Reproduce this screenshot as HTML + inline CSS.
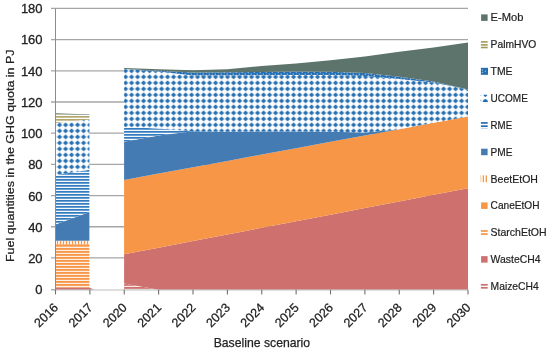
<!DOCTYPE html>
<html><head><meta charset="utf-8"><title>Fuel quantities chart</title>
<style>html,body{margin:0;padding:0;background:#fff;width:550px;height:352px;overflow:hidden}svg{display:block}</style>
</head><body>
<svg width="550" height="352" viewBox="0 0 550 352">
<defs>
<pattern id="p_diamond" patternUnits="userSpaceOnUse" x="2.6" y="1.9" width="6" height="6">
  <rect width="6" height="6" fill="#fff"/>
  <polygon points="3,0.45 5.55,3 3,5.55 0.45,3" fill="#246DB0"/>
</pattern>
<pattern id="p_tme" patternUnits="userSpaceOnUse" x="0" y="0" width="6" height="3.5">
  <rect width="6" height="3.5" fill="#246DB0"/>
  <circle cx="2.3" cy="2.1" r="0.75" fill="#A8C8EA"/>
  <circle cx="5.3" cy="0.85" r="0.75" fill="#A8C8EA"/>
</pattern>
<pattern id="p_bluelines" patternUnits="userSpaceOnUse" x="0" y="0" width="6" height="3"><rect width="6" height="3" fill="#fff"/><rect y="1.95" width="6" height="1.8" fill="#347CC0"/><rect y="-1.05" width="6" height="1.8" fill="#347CC0"/></pattern>
<pattern id="p_orglines" patternUnits="userSpaceOnUse" x="0" y="0" width="6" height="3"><rect width="6" height="3" fill="#fff"/><rect y="1.85" width="6" height="2.0" fill="#F79646"/><rect y="-1.15" width="6" height="2.0" fill="#F79646"/></pattern>
<pattern id="p_redlines" patternUnits="userSpaceOnUse" x="0" y="0" width="6" height="3"><rect width="6" height="3" fill="#fff"/><rect y="1.85" width="6" height="2.0" fill="#CD706E"/><rect y="-1.15" width="6" height="2.0" fill="#CD706E"/></pattern>
<pattern id="p_olive" patternUnits="userSpaceOnUse" x="0" y="0" width="6" height="3"><rect width="6" height="3" fill="#fff"/><rect y="2.10" width="6" height="1.5" fill="#AA9C5C"/><rect y="-0.90" width="6" height="1.5" fill="#AA9C5C"/></pattern>
<pattern id="p_orgvlines" patternUnits="userSpaceOnUse" x="0" y="0" width="3" height="6">
  <rect width="3" height="6" fill="#fff"/>
  <rect x="-0.15" width="1.3" height="6" fill="#F79646"/>
  <rect x="2.85" width="1.3" height="6" fill="#F79646"/>
</pattern>
</defs>
<rect width="550" height="352" fill="#fff"/>
<g><line x1="51" y1="257.91" x2="468.00" y2="257.91" stroke="#A6A6A6" stroke-width="1.3"/><line x1="51" y1="226.73" x2="468.00" y2="226.73" stroke="#A6A6A6" stroke-width="1.3"/><line x1="51" y1="195.54" x2="468.00" y2="195.54" stroke="#A6A6A6" stroke-width="1.3"/><line x1="51" y1="164.36" x2="468.00" y2="164.36" stroke="#A6A6A6" stroke-width="1.3"/><line x1="51" y1="133.17" x2="468.00" y2="133.17" stroke="#A6A6A6" stroke-width="1.3"/><line x1="51" y1="101.98" x2="468.00" y2="101.98" stroke="#A6A6A6" stroke-width="1.3"/><line x1="51" y1="70.80" x2="468.00" y2="70.80" stroke="#A6A6A6" stroke-width="1.3"/><line x1="51" y1="39.61" x2="468.00" y2="39.61" stroke="#A6A6A6" stroke-width="1.3"/><line x1="51" y1="8.43" x2="468.00" y2="8.43" stroke="#A6A6A6" stroke-width="1.3"/></g>
<g><polygon points="55.50,287.50 89.38,287.50 89.38,289.80 55.50,289.80" fill="#CD706E"/>
<polygon points="55.50,246.20 89.38,246.20 89.38,287.50 55.50,287.50" fill="url(#p_orglines)"/>
<polygon points="55.50,244.20 89.38,244.20 89.38,246.20 55.50,246.20" fill="#F79646"/>
<polygon points="55.50,240.70 89.38,240.70 89.38,244.20 55.50,244.20" fill="url(#p_orgvlines)"/>
<polygon points="55.50,224.40 89.38,211.90 89.38,240.70 55.50,240.70" fill="#457BB3"/>
<polygon points="55.50,174.90 89.38,169.80 89.38,211.90 55.50,224.40" fill="url(#p_bluelines)"/>
<polygon points="55.50,123.00 89.38,119.50 89.38,169.80 55.50,174.90" fill="url(#p_diamond)"/>
<polygon points="55.50,113.90 89.38,115.00 89.38,119.50 55.50,123.00" fill="url(#p_olive)"/>
<polygon points="55.50,113.30 89.38,114.40 89.38,115.00 55.50,113.90" fill="#5C746C"/></g>
<g><polygon points="124.10,283.50 158.62,289.80 193.00,289.80 227.38,289.80 261.75,289.80 296.12,289.80 330.50,289.80 364.88,289.80 399.25,289.80 433.62,289.80 468.00,289.80 468.00,289.80 433.62,289.80 399.25,289.80 364.88,289.80 330.50,289.80 296.12,289.80 261.75,289.80 227.38,289.80 193.00,289.80 158.62,289.80 124.10,289.80" fill="url(#p_redlines)"/>
<polygon points="124.10,254.30 158.62,247.69 193.00,241.08 227.38,234.47 261.75,227.86 296.12,221.25 330.50,214.64 364.88,208.03 399.25,201.42 433.62,194.81 468.00,188.20 468.00,289.80 433.62,289.80 399.25,289.80 364.88,289.80 330.50,289.80 296.12,289.80 261.75,289.80 227.38,289.80 193.00,289.80 158.62,289.80 124.10,283.50" fill="#CD706E"/>
<polygon points="124.10,179.90 158.62,173.56 193.00,167.22 227.38,160.88 261.75,154.54 296.12,148.20 330.50,141.86 364.88,135.52 399.25,129.18 433.62,122.84 468.00,116.50 468.00,188.20 433.62,194.81 399.25,201.42 364.88,208.03 330.50,214.64 296.12,221.25 261.75,227.86 227.38,234.47 193.00,241.08 158.62,247.69 124.10,254.30" fill="#F79646"/>
<polygon points="124.10,141.80 158.62,135.40 193.00,131.30 227.38,131.70 261.75,131.50 296.12,131.40 330.50,131.80 364.88,132.60 399.25,129.18 433.62,122.84 468.00,116.50 468.00,116.50 433.62,122.84 399.25,129.18 364.88,135.52 330.50,141.86 296.12,148.20 261.75,154.54 227.38,160.88 193.00,167.22 158.62,173.56 124.10,179.90" fill="#457BB3"/>
<polygon points="124.10,127.00 158.62,128.50 193.00,131.30 227.38,131.70 261.75,131.50 296.12,131.40 330.50,131.80 364.88,132.60 399.25,129.18 433.62,122.84 468.00,116.50 468.00,116.50 433.62,122.84 399.25,129.18 364.88,132.60 330.50,131.80 296.12,131.40 261.75,131.50 227.38,131.70 193.00,131.30 158.62,135.40 124.10,141.80" fill="url(#p_bluelines)"/>
<polygon points="124.10,69.00 158.62,71.40 193.00,75.40 227.38,75.40 261.75,75.30 296.12,74.90 330.50,75.10 364.88,76.00 399.25,79.00 433.62,82.40 468.00,89.40 468.00,116.50 433.62,122.84 399.25,129.18 364.88,132.60 330.50,131.80 296.12,131.40 261.75,131.50 227.38,131.70 193.00,131.30 158.62,128.50 124.10,127.00" fill="url(#p_diamond)"/>
<polygon points="124.10,69.00 158.62,70.80 193.00,72.60 227.38,72.20 261.75,72.00 296.12,71.60 330.50,71.80 364.88,73.00 399.25,76.80 433.62,81.60 468.00,89.40 468.00,89.40 433.62,82.40 399.25,79.00 364.88,76.00 330.50,75.10 296.12,74.90 261.75,75.30 227.38,75.40 193.00,75.40 158.62,71.40 124.10,69.00" fill="url(#p_tme)"/>
<polygon points="124.10,67.90 158.62,69.30 193.00,70.30 227.38,69.20 261.75,65.90 296.12,63.40 330.50,60.30 364.88,56.40 399.25,51.80 433.62,47.50 468.00,42.60 468.00,89.40 433.62,81.60 399.25,76.80 364.88,73.00 330.50,71.80 296.12,71.60 261.75,72.00 227.38,72.20 193.00,72.60 158.62,70.80 124.10,69.00" fill="#5C746C"/></g>
<polygon points="89.0,287.6 94.0,289.6 89.0,289.8" fill="#CD706E"/>
<line x1="55.50" y1="290.00" x2="468.00" y2="290.00" stroke="#BDBDBD" stroke-width="1.2"/>
<line x1="55.50" y1="8.50" x2="55.50" y2="294.2" stroke="#8C8C8C" stroke-width="1"/>
<line x1="51" y1="289.80" x2="55.50" y2="289.80" stroke="#8C8C8C" stroke-width="1"/>
<g><line x1="55.50" y1="289.80" x2="55.50" y2="294.4" stroke="#707070" stroke-width="1.1"/><line x1="89.88" y1="289.80" x2="89.88" y2="294.4" stroke="#707070" stroke-width="1.1"/><line x1="124.25" y1="289.80" x2="124.25" y2="294.4" stroke="#707070" stroke-width="1.1"/><line x1="158.62" y1="289.80" x2="158.62" y2="294.4" stroke="#707070" stroke-width="1.1"/><line x1="193.00" y1="289.80" x2="193.00" y2="294.4" stroke="#707070" stroke-width="1.1"/><line x1="227.38" y1="289.80" x2="227.38" y2="294.4" stroke="#707070" stroke-width="1.1"/><line x1="261.75" y1="289.80" x2="261.75" y2="294.4" stroke="#707070" stroke-width="1.1"/><line x1="296.12" y1="289.80" x2="296.12" y2="294.4" stroke="#707070" stroke-width="1.1"/><line x1="330.50" y1="289.80" x2="330.50" y2="294.4" stroke="#707070" stroke-width="1.1"/><line x1="364.88" y1="289.80" x2="364.88" y2="294.4" stroke="#707070" stroke-width="1.1"/><line x1="399.25" y1="289.80" x2="399.25" y2="294.4" stroke="#707070" stroke-width="1.1"/><line x1="433.62" y1="289.80" x2="433.62" y2="294.4" stroke="#707070" stroke-width="1.1"/><line x1="468.00" y1="289.80" x2="468.00" y2="294.4" stroke="#707070" stroke-width="1.1"/></g>
<g font-family="Liberation Sans, Arial, sans-serif" font-size="13" fill="#222222" stroke="#222222" stroke-width="0.3"><text x="42.6" y="294.20" text-anchor="end">0</text><text x="42.6" y="262.98" text-anchor="end">20</text><text x="42.6" y="231.76" text-anchor="end">40</text><text x="42.6" y="200.53" text-anchor="end">60</text><text x="42.6" y="169.31" text-anchor="end">80</text><text x="42.6" y="138.09" text-anchor="end">100</text><text x="42.6" y="106.87" text-anchor="end">120</text><text x="42.6" y="75.64" text-anchor="end">140</text><text x="42.6" y="44.42" text-anchor="end">160</text><text x="42.6" y="13.20" text-anchor="end">180</text></g>
<g font-family="Liberation Sans, Arial, sans-serif" font-size="12.5" fill="#222222" stroke="#222222" stroke-width="0.25"><text x="59.00" y="308.30" text-anchor="end" transform="rotate(-45 59.00 308.30)">2016</text><text x="93.38" y="308.30" text-anchor="end" transform="rotate(-45 93.38 308.30)">2017</text><text x="127.75" y="308.30" text-anchor="end" transform="rotate(-45 127.75 308.30)">2020</text><text x="162.12" y="308.30" text-anchor="end" transform="rotate(-45 162.12 308.30)">2021</text><text x="196.50" y="308.30" text-anchor="end" transform="rotate(-45 196.50 308.30)">2022</text><text x="230.88" y="308.30" text-anchor="end" transform="rotate(-45 230.88 308.30)">2023</text><text x="265.25" y="308.30" text-anchor="end" transform="rotate(-45 265.25 308.30)">2024</text><text x="299.62" y="308.30" text-anchor="end" transform="rotate(-45 299.62 308.30)">2025</text><text x="334.00" y="308.30" text-anchor="end" transform="rotate(-45 334.00 308.30)">2026</text><text x="368.38" y="308.30" text-anchor="end" transform="rotate(-45 368.38 308.30)">2027</text><text x="402.75" y="308.30" text-anchor="end" transform="rotate(-45 402.75 308.30)">2028</text><text x="437.12" y="308.30" text-anchor="end" transform="rotate(-45 437.12 308.30)">2029</text><text x="471.50" y="308.30" text-anchor="end" transform="rotate(-45 471.50 308.30)">2030</text></g>
<g><rect x="481.1" y="14.40" width="6.5" height="6.5" fill="#5C746C"/><rect x="480.9" y="41.11" width="6.80" height="1.6" fill="#A09B58"/><rect x="480.9" y="44.11" width="6.80" height="1.6" fill="#A09B58"/><rect x="480.9" y="46.71" width="6.80" height="1.6" fill="#A09B58"/><rect x="480.9" y="67.82" width="7.1" height="7.0" fill="#246DB0"/><circle cx="482.4" cy="70.12" r="0.8" fill="#8FB6DE"/><circle cx="482.4" cy="72.52" r="0.8" fill="#8FB6DE"/><circle cx="485.3" cy="71.32" r="0.7" fill="#8FB6DE"/><path d="M483.2 94.78 L487.5 94.78 Q485.35 99.08 483.2 94.78 Z" fill="#246DB0"/><path d="M482.8 101.88 L487.9 101.88 L487.9 100.88 Q485.35 97.08 482.8 100.88 Z" fill="#246DB0"/><rect x="480.3" y="94.78" width="0.9" height="1.2" fill="#9CC2E6"/><rect x="480.4" y="99.68" width="1.0" height="1.6" fill="#7FAEDD"/><rect x="480.9" y="122.09" width="6.80" height="1.7" fill="#246DB0"/><rect x="480.9" y="125.34" width="6.80" height="1.7" fill="#246DB0"/><rect x="480.9" y="128.14" width="6.80" height="0.8" fill="#B8CFE6"/><rect x="481.1" y="148.70" width="6.5" height="6.5" fill="#457BB3"/><rect x="480.40" y="175.36" width="1.0" height="6.9" fill="#FBCBA2"/><rect x="482.75" y="175.36" width="1.3" height="6.9" fill="#F79646"/><rect x="485.65" y="175.36" width="1.3" height="6.9" fill="#F79646"/><rect x="481.1" y="202.42" width="6.5" height="6.5" fill="#F79646"/><rect x="480.9" y="230.13" width="6.80" height="1.7" fill="#F79646"/><rect x="480.9" y="233.23" width="6.80" height="1.7" fill="#F79646"/><rect x="481.1" y="256.14" width="6.5" height="6.5" fill="#CD706E"/><rect x="480.9" y="283.95" width="6.80" height="1.7" fill="#CD706E"/><rect x="480.9" y="286.95" width="6.80" height="1.7" fill="#CD706E"/></g>
<g font-family="Liberation Sans, Arial, sans-serif" font-size="11" fill="#222222" stroke="#222222" stroke-width="0.2"><text x="490.6" y="21.40" textLength="32.9" lengthAdjust="spacingAndGlyphs">E-Mob</text><text x="490.6" y="48.26" textLength="45.65" lengthAdjust="spacingAndGlyphs">PalmHVO</text><text x="490.6" y="75.12" textLength="21.96" lengthAdjust="spacingAndGlyphs">TME</text><text x="490.6" y="101.98" textLength="37.26" lengthAdjust="spacingAndGlyphs">UCOME</text><text x="490.6" y="128.84" textLength="21.5" lengthAdjust="spacingAndGlyphs">RME</text><text x="490.6" y="155.70" textLength="21.87" lengthAdjust="spacingAndGlyphs">PME</text><text x="490.6" y="182.56" textLength="47.36" lengthAdjust="spacingAndGlyphs">BeetEtOH</text><text x="490.6" y="209.42" textLength="48.9" lengthAdjust="spacingAndGlyphs">CaneEtOH</text><text x="490.6" y="236.28" textLength="56.0" lengthAdjust="spacingAndGlyphs">StarchEtOH</text><text x="490.6" y="263.14" textLength="49.94" lengthAdjust="spacingAndGlyphs">WasteCH4</text><text x="490.6" y="290.00" textLength="48.14" lengthAdjust="spacingAndGlyphs">MaizeCH4</text></g>
<text x="261.9" y="346.8" text-anchor="middle" font-family="Liberation Sans, Arial, sans-serif" font-size="12.7" fill="#222222" stroke="#222222" stroke-width="0.25" textLength="96.5" lengthAdjust="spacingAndGlyphs">Baseline scenario</text>
<text x="0" y="0" transform="translate(14.1 262) rotate(-90)" font-family="Liberation Sans, Arial, sans-serif" font-size="11.5" fill="#222222" stroke="#222222" stroke-width="0.25" textLength="212.5" lengthAdjust="spacingAndGlyphs">Fuel quantities in the GHG quota in PJ</text>
</svg>
</body></html>
